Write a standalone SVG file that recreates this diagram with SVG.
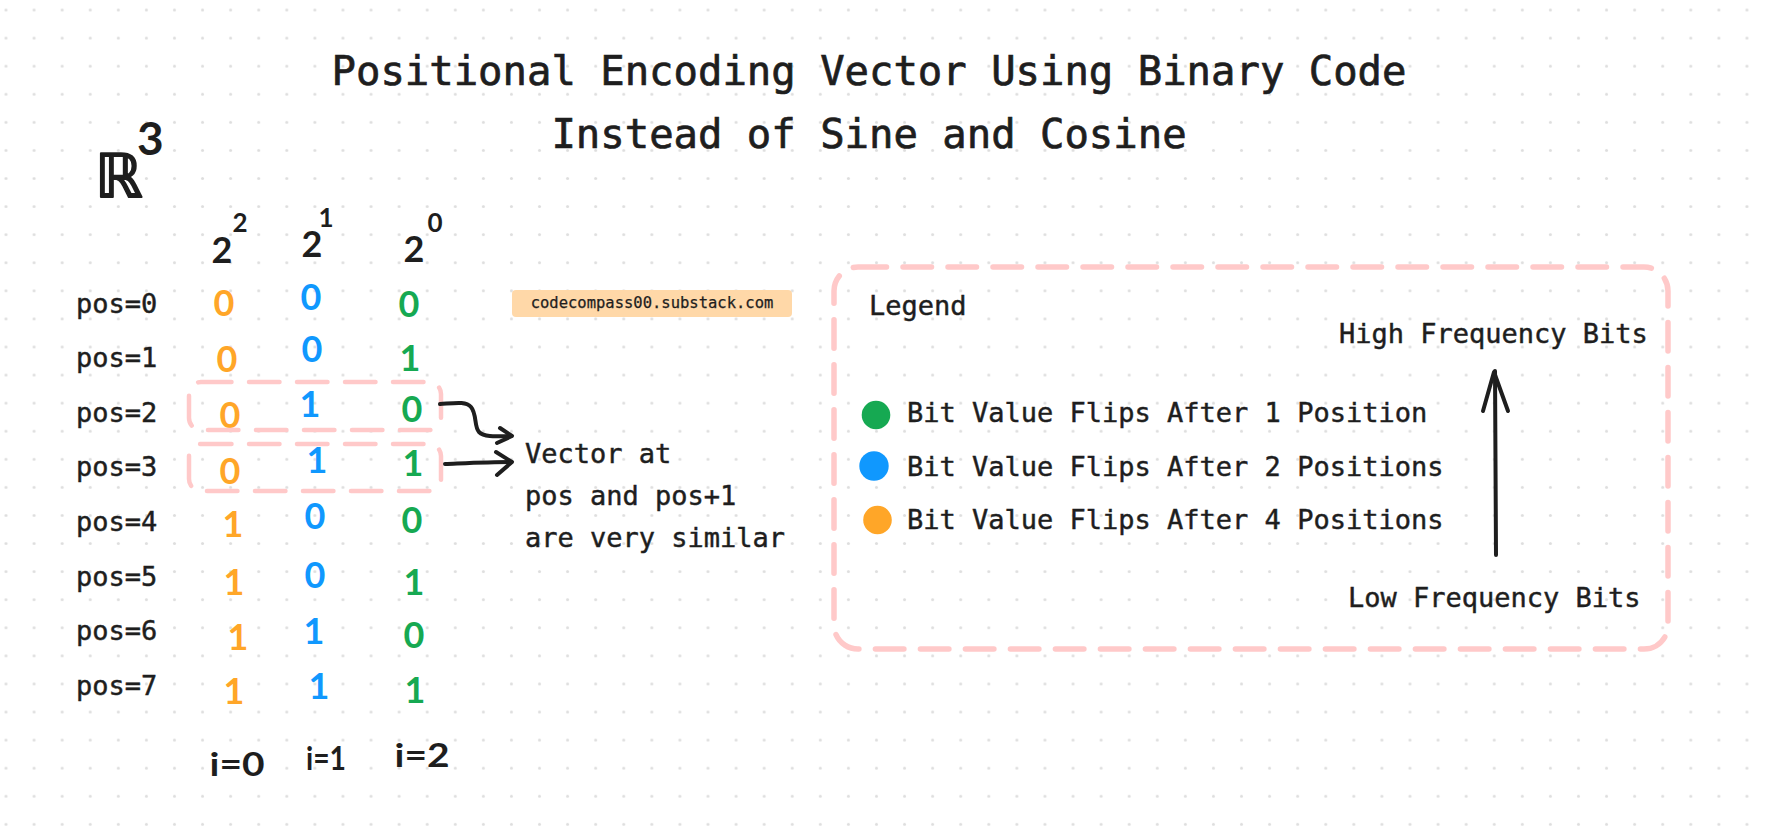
<svg xmlns="http://www.w3.org/2000/svg" width="1765" height="834" viewBox="0 0 1765 834">
  <defs>
    <pattern id="dots" x="-8.04" y="-4.04" width="28.08" height="28.08" patternUnits="userSpaceOnUse">
      <circle cx="14.04" cy="14.04" r="1.5" fill="#dedede"/>
    </pattern>
    <style>
      .mono { font-family: "DejaVu Sans Mono", "Liberation Mono", monospace; fill: #1e1e1e; stroke: #1e1e1e; stroke-width: 0.45px; }
      .ttl { stroke-width: 0.7px; }
      .body { font-size: 27px; }
      .hand { font-family: Lato, "Open Sans", sans-serif; font-weight: 700; text-anchor: middle; }
      .dig { font-size: 36px; }
      .o { fill: #ffa628; }
      .b { fill: #1098fe; }
      .g { fill: #16a952; }
      .ink { fill: #1e1e1e; }
      .pinkbox { fill: none; stroke: #ffc9c9; stroke-linecap: round; }
      .line { fill: none; stroke: #1e1e1e; stroke-width: 4; stroke-linecap: round; stroke-linejoin: round; }
    </style>
  </defs>
  <rect width="1765" height="834" fill="#ffffff"/>
  <rect width="1765" height="834" fill="url(#dots)"/>

  <g id="title">
    <text class="mono ttl" font-size="40.6" text-anchor="middle" x="869" y="85">Positional Encoding Vector Using Binary Code</text>
    <text class="mono ttl" font-size="40.6" text-anchor="middle" x="869" y="148">Instead of Sine and Cosine</text>
  </g>

  <g id="r3">
    <text fill="#1e1e1e"><tspan x="95" y="197" font-family="DejaVu Sans, sans-serif" font-size="60" stroke="#1e1e1e" stroke-width="2" stroke-linejoin="round">ℝ</tspan><tspan x="137" y="155" font-family="Lato, sans-serif" font-weight="700" font-size="46">3</tspan></text>
  </g>

  <g id="powers">
    <text class="hand ink" font-size="36"><tspan x="222" y="263">2</tspan><tspan x="240" y="232" font-size="26">2</tspan></text>
    <text class="hand ink" font-size="36"><tspan x="312" y="257">2</tspan><tspan x="326" y="227" font-size="26">1</tspan></text>
    <text class="hand ink" font-size="36"><tspan x="414" y="262">2</tspan><tspan x="435" y="232" font-size="26">0</tspan></text>
  </g>

  <g id="pos-labels" class="mono body">
    <text x="76" y="313">pos=0</text>
    <text x="76" y="367">pos=1</text>
    <text x="76" y="422">pos=2</text>
    <text x="76" y="476">pos=3</text>
    <text x="76" y="531">pos=4</text>
    <text x="76" y="586">pos=5</text>
    <text x="76" y="640">pos=6</text>
    <text x="76" y="695">pos=7</text>
  </g>

  <g id="col-i0" class="hand dig o">
    <text x="224" y="316">0</text>
    <text x="227" y="372">0</text>
    <text x="230" y="428">0</text>
    <text x="230" y="484">0</text>
    <text x="233" y="537">1</text>
    <text x="234" y="595">1</text>
    <text x="238" y="650">1</text>
    <text x="234" y="704">1</text>
  </g>
  <g id="col-i1" class="hand dig b">
    <text x="311" y="310">0</text>
    <text x="312" y="362">0</text>
    <text x="310" y="417">1</text>
    <text x="317" y="473">1</text>
    <text x="315" y="529">0</text>
    <text x="315" y="588">0</text>
    <text x="314" y="644">1</text>
    <text x="319" y="699">1</text>
  </g>
  <g id="col-i2" class="hand dig g">
    <text x="409" y="317">0</text>
    <text x="410" y="371">1</text>
    <text x="412" y="422">0</text>
    <text x="413" y="476">1</text>
    <text x="412" y="533">0</text>
    <text x="414" y="595">1</text>
    <text x="414" y="648">0</text>
    <text x="415" y="703">1</text>
  </g>

  <g id="index-labels" class="hand ink" font-size="32">
    <text x="237" y="776" textLength="55" lengthAdjust="spacingAndGlyphs">i=0</text>
    <text x="326" y="770" textLength="40" lengthAdjust="spacingAndGlyphs">i=1</text>
    <text x="422" y="767" textLength="55" lengthAdjust="spacingAndGlyphs">i=2</text>
  </g>

  <g id="box-pos2">
    <rect class="pinkbox" x="189" y="382" width="252" height="48" rx="12" stroke-width="4.5" stroke-dasharray="30.5 17.5"/>
  </g>
  <g id="box-pos3">
    <rect class="pinkbox" x="189" y="444" width="252" height="47" rx="12" stroke-width="4.5" stroke-dasharray="30.5 17.5"/>
  </g>

  <g id="watermark">
    <rect x="512" y="290" width="280" height="27" rx="4" fill="#ffd8a8"/>
    <text class="mono" font-size="15.5" text-anchor="middle" x="652" y="308" style="stroke-width:0.25px">codecompass00.substack.com</text>
  </g>

  <g id="vector-note" class="mono body">
    <text x="525" y="463">Vector at</text>
    <text x="525" y="505">pos and pos+1</text>
    <text x="525" y="547">are very similar</text>
  </g>

  <g id="legend">
    <rect class="pinkbox" x="834" y="267" width="834" height="382" rx="24" stroke-width="5.5" stroke-dasharray="28.5 16.5"/>
    <text class="mono body" x="869" y="315">Legend</text>
    <circle cx="876" cy="415" r="14.3" fill="#16a952"/>
    <circle cx="874" cy="466" r="14.7" fill="#1098fe"/>
    <circle cx="877.5" cy="520" r="14.3" fill="#ffa628"/>
    <text class="mono body" x="907" y="422">Bit Value Flips After 1 Position</text>
    <text class="mono body" x="907" y="476">Bit Value Flips After 2 Positions</text>
    <text class="mono body" x="907" y="529">Bit Value Flips After 4 Positions</text>
    <text class="mono body" x="1339" y="343">High Frequency Bits</text>
    <text class="mono body" x="1348" y="607">Low Frequency Bits</text>
  </g>

  <g id="connectors">
    <path class="line" d="M440 404 C455 403 466 401 471 407 C477 414 474 427 479 432 C485 438 500 436 511 436"/>
    <path class="line" d="M500 428 L512 436 L497 443"/>
    <path class="line" d="M445 464 C470 463 490 462 511 462"/>
    <path class="line" d="M496 452 L512 462 L497 475"/>
    <path class="line" d="M1496 555 L1495 371"/>
    <path class="line" d="M1483 411 L1494 372 L1508 411"/>
  </g>
</svg>
